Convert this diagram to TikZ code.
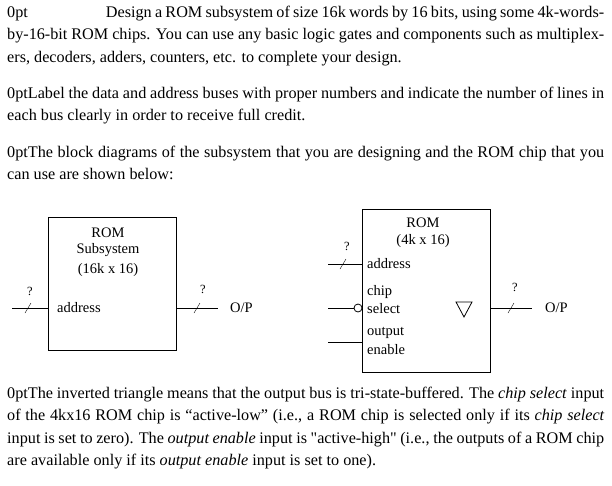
\documentclass[tikz,border=0pt]{standalone}
\usepackage{fontspec}
\setmainfont{Liberation Serif}
\usetikzlibrary{positioning}
\begin{document}
\begin{tikzpicture}[x=1pt,y=-1pt]
  \tikzstyle{para} = [anchor=north west, inner sep=0pt, text width=597pt, align=justify, font=\fontsize{16.2}{22.2}\selectfont\hyphenpenalty=10000\exhyphenpenalty=50]
  \tikzstyle{lbl} = [inner sep=0pt, font=\fontsize{14.5}{16}\selectfont]
  \tikzstyle{qm} = [inner sep=0pt, font=\fontsize{12.5}{12}\selectfont]
  \tikzstyle{bus} = [thick]
  \useasboundingbox (0,0) rectangle (612,485);

  \node[para] (p1) at (7,6) {\hspace*{78pt}Design a ROM subsystem of size 16k words by 16 bits, using some 4k-words-by-16-bit ROM chips. You can use any basic logic gates and components such as multiplexers, decoders, adders, counters, etc. to complete your design.};
  \node[para] (p2) at (7,87) {Label the data and address buses with proper numbers and indicate the number of lines in each bus clearly in order to receive full credit.};
  \node[para] (p3) at (7,146) {The block diagrams of the subsystem that you are designing and the ROM chip that you can use are shown below:};
  \node[para] (p4) at (7,387) {The inverted triangle means that the output bus is tri-state-buffered. The \emph{chip select} input of the 4kx16 ROM chip is ``active-low'' (i.e., a ROM chip is selected only if its \emph{chip select} input is set to zero). The \emph{output enable} input is \textquotedbl active-high\textquotedbl\ (i.e., the outputs of a ROM chip are available only if its \emph{output enable} input is set to one).};

  % ROM subsystem
  \draw[thick] (48,217) rectangle (176,350);
  \node[lbl] (st) at (108,233) {ROM};
  \node[lbl] (ss) at (108,250) {Subsystem};
  \node[lbl] (sz) at (108,270) {(16k x 16)};
  \node[lbl, anchor=west] (sa) at (57,308) {address};
  \coordinate (sin) at (12,308);
  \coordinate (sain) at (48,308);
  \coordinate (sout) at (176,308);
  \coordinate (send) at (218,308);
  \node[lbl, anchor=west] (sop) at (230,308) {O/P};
  \draw[bus] (sin) -- (sain);
  \draw[bus] (sout) -- (send);
  \draw (25,313) -- (31,303);
  \draw (194,313) -- (200,303);
  \node[qm] at (30,291) {?};
  \node[qm] at (203,289) {?};

  % ROM chip
  \draw[thick] (362,209) rectangle (490,372);
  \node[lbl] (rt) at (423,223) {ROM};
  \node[lbl] (rz) at (423,241) {(4k x 16)};
  \node[lbl, anchor=west] (ra) at (367,264) {address};
  \node[lbl, anchor=west] (rc) at (367,292) {chip};
  \node[lbl, anchor=west] (rs) at (367,309) {select};
  \node[lbl, anchor=west] (ro) at (367,333) {output};
  \node[lbl, anchor=west] (re) at (367,350) {enable};
  \coordinate (ain) at (328,264);
  \coordinate (aend) at (362,264);
  \coordinate (cin) at (328,308);
  \coordinate (oin) at (328,342);
  \coordinate (oend) at (362,342);
  \coordinate (rout) at (490,308);
  \coordinate (rend) at (532,308);
  \node[lbl, anchor=west] (rop) at (545,308) {O/P};
  \node[circle, draw, thick, inner sep=0pt, minimum size=8pt] (cs) at (358,308) {};
  \draw[bus] (ain) -- (aend);
  \draw[bus] (cin) -- (cs);
  \draw[bus] (oin) -- (oend);
  \draw[bus] (rout) -- (rend);
  \draw (340,269) -- (346,259);
  \draw (508,313) -- (514,303);
  \draw[thick] (456,302) -- (472,302) -- (464,317) -- cycle;
  \node[qm] at (347,246) {?};
  \node[qm] at (515,287) {?};
\end{tikzpicture}
\end{document}
